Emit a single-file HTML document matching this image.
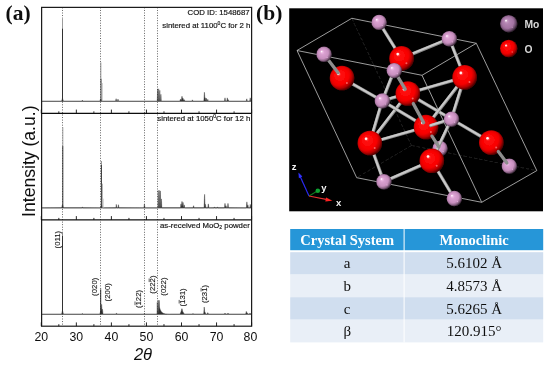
<!DOCTYPE html>
<html lang="en"><head><meta charset="utf-8"><title>XRD of MoO2 and crystal structure</title>
<style>html,body{margin:0;padding:0;background:#fff}svg{display:block}</style></head>
<body>
<svg width="550" height="367" viewBox="0 0 550 367">
<rect width="550" height="367" fill="#fff"/>
<filter id="soft" x="-2%" y="-2%" width="104%" height="104%"><feGaussianBlur stdDeviation="0.32"/></filter>
<g filter="url(#soft)">
<g id="xrd">
<line x1="62.50" y1="7.4" x2="62.50" y2="326.2" stroke="#3c3c3c" stroke-width="0.8" stroke-dasharray="1 1.55"/>
<line x1="100.50" y1="7.4" x2="100.50" y2="326.2" stroke="#3c3c3c" stroke-width="0.8" stroke-dasharray="1 1.55"/>
<line x1="144.50" y1="7.4" x2="144.50" y2="326.2" stroke="#3c3c3c" stroke-width="0.8" stroke-dasharray="1 1.55"/>
<line x1="157.50" y1="7.4" x2="157.50" y2="326.2" stroke="#3c3c3c" stroke-width="0.8" stroke-dasharray="1 1.55"/>
<path d="M41.30 101.35 L61.00 101.32 L61.10 101.30 L61.20 101.27 L61.30 101.23 L61.40 101.15 L61.50 101.04 L61.60 100.89 L61.70 100.68 L61.80 100.41 L61.90 100.08 L62.00 99.72 L62.10 99.33 L62.20 98.96 L62.30 98.64 L62.40 98.43 L62.50 98.35 L62.60 98.43 L62.70 98.64 L62.80 98.96 L62.90 99.33 L63.00 99.72 L63.10 100.08 L63.20 100.41 L63.30 100.68 L63.40 100.89 L63.50 101.04 L63.60 101.15 L63.70 101.23 L63.80 101.27 L63.90 101.30 L64.00 101.32 L81.50 101.34 L81.60 101.32 L81.70 101.27 L81.80 101.18 L81.90 101.01 L82.00 100.77 L82.10 100.49 L82.20 100.25 L82.30 100.15 L82.40 100.25 L82.50 100.49 L82.60 100.77 L82.70 101.01 L82.80 101.18 L82.90 101.27 L83.00 101.32 L83.10 101.34 L99.20 101.32 L99.30 101.31 L99.40 101.28 L99.50 101.24 L99.60 101.19 L99.70 101.10 L99.80 100.99 L99.90 100.84 L100.00 100.64 L100.10 100.41 L100.20 100.14 L100.30 99.85 L100.40 99.56 L100.50 99.29 L100.60 99.06 L100.70 98.90 L100.80 98.85 L100.90 98.90 L101.00 99.06 L101.10 99.29 L101.20 99.56 L101.30 99.85 L101.40 100.14 L101.50 100.41 L101.60 100.64 L101.70 100.84 L101.80 100.99 L101.90 101.10 L102.00 101.19 L102.10 101.24 L102.20 101.28 L102.30 101.31 L102.40 101.32 L115.20 101.34 L115.30 101.32 L115.40 101.28 L115.50 101.18 L115.60 100.97 L115.70 100.61 L115.80 100.09 L115.90 99.49 L116.00 98.96 L116.10 98.75 L116.20 98.96 L116.30 99.49 L116.40 100.09 L116.50 100.61 L116.60 100.97 L116.70 101.18 L116.80 101.27 L116.90 101.31 L117.00 101.33 L117.10 101.33 L117.20 101.32 L117.30 101.28 L117.40 101.20 L117.50 101.03 L117.60 100.73 L117.70 100.29 L117.80 99.77 L117.90 99.33 L118.00 99.15 L118.10 99.33 L118.20 99.77 L118.30 100.29 L118.40 100.73 L118.50 101.03 L118.60 101.20 L118.70 101.29 L118.80 101.32 L157.00 101.32 L157.10 101.29 L157.20 101.13 L157.30 100.23 L157.40 97.26 L157.50 92.04 L157.60 88.84 L157.70 92.04 L157.80 97.25 L157.90 100.22 L158.00 101.11 L158.10 101.27 L158.20 101.27 L158.30 101.11 L158.40 100.22 L158.50 97.25 L158.60 92.03 L158.70 88.84 L158.80 92.03 L158.90 97.25 L159.00 100.22 L159.10 101.11 L159.20 101.27 L159.30 101.27 L159.40 101.14 L159.50 100.35 L159.60 97.74 L159.70 93.15 L159.80 90.34 L159.90 93.15 L160.00 97.74 L160.10 100.35 L160.20 101.13 L160.30 101.26 L160.40 101.20 L160.50 100.87 L160.60 99.90 L160.70 97.96 L160.80 95.56 L160.90 94.35 L161.00 95.57 L161.10 97.97 L161.20 99.91 L161.30 100.89 L161.40 101.22 L161.50 101.31 L161.60 101.33 L179.20 101.33 L179.30 101.32 L179.40 101.30 L179.50 101.26 L179.60 101.20 L179.70 101.11 L179.80 100.98 L179.90 100.80 L180.00 100.56 L180.10 100.28 L180.20 99.97 L180.30 99.67 L180.40 99.40 L180.50 99.21 L180.60 99.13 L180.70 99.20 L180.80 99.38 L180.90 99.62 L181.00 99.89 L181.10 100.11 L181.20 100.23 L181.30 100.20 L181.40 99.95 L181.50 99.47 L181.60 98.78 L181.70 97.96 L181.80 97.15 L181.90 96.53 L182.00 96.28 L182.10 96.47 L182.20 97.01 L182.30 97.69 L182.40 98.31 L182.50 98.72 L182.60 98.87 L182.70 98.77 L182.80 98.53 L182.90 98.30 L183.00 98.22 L183.10 98.38 L183.20 98.74 L183.30 99.19 L183.40 99.62 L183.50 99.96 L183.60 100.15 L183.70 100.21 L183.80 100.15 L183.90 100.02 L184.00 99.88 L184.10 99.77 L184.20 99.73 L184.30 99.78 L184.40 99.92 L184.50 100.12 L184.60 100.35 L184.70 100.57 L184.80 100.77 L184.90 100.95 L185.00 101.08 L185.10 101.17 L185.20 101.24 L185.30 101.28 L185.40 101.31 L185.50 101.33 L191.60 101.33 L191.70 101.31 L191.80 101.25 L191.90 101.13 L192.00 100.93 L192.10 100.63 L192.20 100.28 L192.30 99.97 L192.40 99.85 L192.50 99.97 L192.60 100.28 L192.70 100.63 L192.80 100.93 L192.90 101.13 L193.00 101.25 L193.10 101.31 L193.20 101.33 L203.30 101.33 L203.40 101.32 L203.50 101.30 L203.60 101.24 L203.70 101.10 L203.80 100.75 L203.90 100.04 L204.00 98.80 L204.10 97.00 L204.20 94.90 L204.30 93.07 L204.40 92.31 L204.50 93.00 L204.60 94.68 L204.70 96.50 L204.80 97.81 L204.90 98.36 L205.00 98.25 L205.10 97.89 L205.20 97.74 L205.30 98.08 L205.40 98.80 L205.50 99.60 L205.60 100.26 L205.70 100.62 L205.80 100.65 L205.90 100.34 L206.00 99.76 L206.10 99.03 L206.20 98.40 L206.30 98.14 L206.40 98.40 L206.50 99.05 L206.60 99.80 L206.70 100.44 L206.80 100.88 L206.90 101.12 L207.00 101.24 L207.10 101.25 L207.20 101.20 L207.30 101.05 L207.40 100.78 L207.50 100.38 L207.60 99.91 L207.70 99.51 L207.80 99.35 L207.90 99.51 L208.00 99.92 L208.10 100.38 L208.20 100.78 L208.30 101.06 L208.40 101.22 L208.50 101.29 L208.60 101.33 L224.10 101.33 L224.20 101.31 L224.30 101.25 L224.40 101.12 L224.50 100.84 L224.60 100.36 L224.70 99.66 L224.80 98.84 L224.90 98.14 L225.00 97.85 L225.10 98.14 L225.20 98.84 L225.30 99.66 L225.40 100.36 L225.50 100.84 L225.60 101.12 L225.70 101.25 L225.80 101.31 L225.90 101.33 L226.40 101.33 L226.50 101.31 L226.60 101.25 L226.70 101.12 L226.80 100.84 L226.90 100.36 L227.00 99.66 L227.10 98.84 L227.20 98.13 L227.30 97.84 L227.40 98.12 L227.50 98.80 L227.60 99.56 L227.70 100.13 L227.80 100.39 L227.90 100.35 L228.00 100.11 L228.10 99.84 L228.20 99.73 L228.30 99.87 L228.40 100.20 L228.50 100.57 L228.60 100.89 L228.70 101.11 L228.80 101.24 L228.90 101.30 L229.00 101.33 L246.00 101.32 L246.10 101.28 L246.20 101.19 L246.30 100.99 L246.40 100.64 L246.50 100.14 L246.60 99.56 L246.70 99.06 L246.80 98.85 L246.90 99.06 L247.00 99.56 L247.10 100.14 L247.20 100.64 L247.30 100.99 L247.40 101.19 L247.50 101.28 L247.60 101.32 L249.30 101.33 L249.40 101.31 L249.50 101.25 L249.60 101.12 L249.70 100.84 L249.80 100.36 L249.90 99.66 L250.00 98.84 L250.10 98.14 L250.20 97.85 L250.30 98.14 L250.40 98.84 L250.50 99.66 L250.60 100.36 L250.70 100.84 L250.80 101.12 L250.90 101.25 L251.00 101.31 L251.10 101.33 L251.60 101.35" fill="#303030" stroke="#303030" stroke-width="0.4" stroke-linejoin="round"/>
<line x1="41.3" y1="101.3" x2="251.6" y2="101.3" stroke="#4a4a4a" stroke-width="0.85"/>
<path d="M41.30 207.90 L61.00 207.87 L61.10 207.85 L61.20 207.82 L61.30 207.78 L61.40 207.70 L61.50 207.59 L61.60 207.44 L61.70 207.23 L61.80 206.96 L61.90 206.63 L62.00 206.27 L62.10 205.88 L62.20 205.51 L62.30 205.19 L62.40 204.98 L62.50 204.90 L62.60 204.98 L62.70 205.19 L62.80 205.51 L62.90 205.88 L63.00 206.27 L63.10 206.63 L63.20 206.96 L63.30 207.23 L63.40 207.44 L63.50 207.59 L63.60 207.70 L63.70 207.78 L63.80 207.82 L63.90 207.85 L64.00 207.87 L81.60 207.87 L81.70 207.83 L81.80 207.76 L81.90 207.62 L82.00 207.42 L82.10 207.18 L82.20 206.98 L82.30 206.90 L82.40 206.98 L82.50 207.18 L82.60 207.42 L82.70 207.62 L82.80 207.76 L82.90 207.83 L83.00 207.87 L99.80 207.88 L99.90 207.87 L100.00 207.85 L100.10 207.82 L100.20 207.77 L100.30 207.70 L100.40 207.60 L100.50 207.47 L100.60 207.28 L100.70 207.05 L100.80 206.77 L100.90 206.45 L101.00 206.11 L101.10 205.75 L101.20 205.42 L101.30 205.15 L101.40 204.96 L101.50 204.90 L101.60 204.96 L101.70 205.15 L101.80 205.42 L101.90 205.75 L102.00 206.11 L102.10 206.45 L102.20 206.77 L102.30 207.05 L102.40 207.28 L102.50 207.47 L102.60 207.60 L102.70 207.70 L102.80 207.77 L102.90 207.82 L103.00 207.85 L103.10 207.87 L103.20 207.88 L115.60 207.87 L115.70 207.82 L115.80 207.67 L115.90 207.31 L116.00 206.65 L116.10 205.72 L116.20 204.81 L116.30 204.40 L116.40 204.81 L116.50 205.72 L116.60 206.65 L116.70 207.31 L116.80 207.67 L116.90 207.82 L117.00 207.87 L117.10 207.88 L117.70 207.87 L117.80 207.82 L117.90 207.69 L118.00 207.36 L118.10 206.76 L118.20 205.91 L118.30 205.07 L118.40 204.70 L118.50 205.07 L118.60 205.91 L118.70 206.76 L118.80 207.36 L118.90 207.69 L119.00 207.83 L119.10 207.87 L143.50 207.88 L143.60 207.86 L143.70 207.80 L143.80 207.65 L143.90 207.35 L144.00 206.83 L144.10 206.07 L144.20 205.18 L144.30 204.41 L144.40 204.10 L144.50 204.41 L144.60 205.18 L144.70 206.07 L144.80 206.83 L144.90 207.35 L145.00 207.65 L145.10 207.80 L145.20 207.86 L145.30 207.88 L157.40 207.88 L157.50 207.87 L157.60 207.85 L157.70 207.79 L157.80 207.44 L157.90 205.87 L158.00 201.42 L158.10 194.43 L158.20 190.39 L158.30 194.43 L158.40 201.41 L158.50 205.85 L158.60 207.41 L158.70 207.74 L158.80 207.74 L158.90 207.41 L159.00 205.85 L159.10 201.41 L159.20 194.42 L159.30 190.38 L159.40 194.42 L159.50 201.41 L159.60 205.85 L159.70 207.41 L159.80 207.74 L159.90 207.74 L160.00 207.42 L160.10 205.90 L160.20 201.59 L160.30 194.81 L160.40 190.88 L160.50 194.81 L160.60 201.59 L160.70 205.90 L160.80 207.40 L160.90 207.63 L161.00 207.26 L161.10 206.02 L161.20 203.54 L161.30 200.45 L161.40 198.89 L161.50 200.46 L161.60 203.55 L161.70 206.05 L161.80 207.30 L161.90 207.74 L162.00 207.85 L162.10 207.87 L180.10 207.87 L180.20 207.85 L180.30 207.78 L180.40 207.63 L180.50 207.31 L180.60 206.76 L180.70 205.96 L180.80 205.02 L180.90 204.21 L181.00 203.88 L181.10 204.19 L181.20 204.96 L181.30 205.79 L181.40 206.34 L181.50 206.38 L181.60 205.79 L181.70 204.65 L181.80 203.19 L181.90 201.90 L182.00 201.37 L182.10 201.90 L182.20 203.18 L182.30 204.61 L182.40 205.70 L182.50 206.16 L182.60 205.91 L182.70 205.06 L182.80 203.88 L182.90 202.81 L183.00 202.37 L183.10 202.83 L183.20 203.94 L183.30 205.22 L183.40 206.30 L183.50 207.01 L183.60 207.34 L183.70 207.31 L183.80 206.98 L183.90 206.42 L184.00 205.73 L184.10 205.13 L184.20 204.89 L184.30 205.14 L184.40 205.74 L184.50 206.45 L184.60 207.05 L184.70 207.46 L184.80 207.70 L184.90 207.81 L185.00 207.86 L185.10 207.88 L192.80 207.87 L192.90 207.84 L193.00 207.76 L193.10 207.58 L193.20 207.28 L193.30 206.84 L193.40 206.33 L193.50 205.88 L193.60 205.70 L193.70 205.88 L193.80 206.33 L193.90 206.84 L194.00 207.28 L194.10 207.58 L194.20 207.76 L194.30 207.84 L194.40 207.87 L203.50 207.87 L203.60 207.86 L203.70 207.85 L203.80 207.80 L203.90 207.66 L204.00 207.28 L204.10 206.40 L204.20 204.70 L204.30 202.02 L204.40 198.67 L204.50 195.65 L204.60 194.36 L204.70 195.58 L204.80 198.46 L204.90 201.52 L205.00 203.72 L205.10 204.72 L205.20 204.78 L205.30 204.45 L205.40 204.30 L205.50 204.64 L205.60 205.36 L205.70 206.19 L205.80 206.89 L205.90 207.38 L206.00 207.66 L206.10 207.79 L206.20 207.85 L206.30 207.87 L207.40 207.87 L207.50 207.85 L207.60 207.79 L207.70 207.63 L207.80 207.32 L207.90 206.77 L208.00 205.97 L208.10 205.04 L208.20 204.23 L208.30 203.90 L208.40 204.23 L208.50 205.04 L208.60 205.97 L208.70 206.77 L208.80 207.32 L208.90 207.64 L209.00 207.79 L209.10 207.85 L209.20 207.88 L213.80 207.87 L213.90 207.83 L214.00 207.76 L214.10 207.62 L214.20 207.42 L214.30 207.18 L214.40 206.98 L214.50 206.90 L214.60 206.98 L214.70 207.18 L214.80 207.42 L214.90 207.62 L215.00 207.76 L215.10 207.83 L215.20 207.87 L216.80 207.87 L216.90 207.83 L217.00 207.76 L217.10 207.62 L217.20 207.42 L217.30 207.18 L217.40 206.98 L217.50 206.90 L217.60 206.98 L217.70 207.18 L217.80 207.42 L217.90 207.62 L218.00 207.76 L218.10 207.83 L218.20 207.87 L224.10 207.87 L224.20 207.85 L224.30 207.77 L224.40 207.60 L224.50 207.25 L224.60 206.63 L224.70 205.73 L224.80 204.67 L224.90 203.77 L225.00 203.39 L225.10 203.76 L225.20 204.65 L225.30 205.67 L225.40 206.48 L225.50 206.93 L225.60 206.98 L225.70 206.71 L225.80 206.27 L225.90 205.86 L226.00 205.68 L226.10 205.87 L226.20 206.32 L226.30 206.83 L226.40 207.27 L226.50 207.57 L226.60 207.75 L226.70 207.83 L226.80 207.86 L226.90 207.88 L227.00 207.88 L227.10 207.87 L227.20 207.84 L227.30 207.77 L227.40 207.60 L227.50 207.25 L227.60 206.63 L227.70 205.73 L227.80 204.68 L227.90 203.77 L228.00 203.40 L228.10 203.77 L228.20 204.68 L228.30 205.73 L228.40 206.63 L228.50 207.25 L228.60 207.60 L228.70 207.78 L228.80 207.85 L228.90 207.87 L245.90 207.88 L246.00 207.87 L246.10 207.83 L246.20 207.73 L246.30 207.50 L246.40 207.03 L246.50 206.20 L246.60 205.00 L246.70 203.60 L246.80 202.39 L246.90 201.89 L247.00 202.38 L247.10 203.57 L247.20 204.92 L247.30 206.01 L247.40 206.60 L247.50 206.66 L247.60 206.29 L247.70 205.68 L247.80 205.11 L247.90 204.88 L248.00 205.13 L248.10 205.74 L248.20 206.44 L248.30 207.04 L248.40 207.46 L248.50 207.70 L248.60 207.81 L248.70 207.86 L248.80 207.88 L249.40 207.88 L249.50 207.86 L249.60 207.80 L249.70 207.67 L249.80 207.39 L249.90 206.91 L250.00 206.21 L250.10 205.39 L250.20 204.69 L250.30 204.40 L250.40 204.69 L250.50 205.39 L250.60 206.21 L250.70 206.91 L250.80 207.39 L250.90 207.67 L251.00 207.80 L251.10 207.86 L251.20 207.88 L251.60 207.89" fill="#303030" stroke="#303030" stroke-width="0.4" stroke-linejoin="round"/>
<line x1="41.3" y1="207.9" x2="251.6" y2="207.9" stroke="#4a4a4a" stroke-width="0.85"/>
<path d="M41.30 314.30 L60.90 314.28 L61.00 314.27 L61.10 314.24 L61.20 314.21 L61.30 314.16 L61.40 314.07 L61.50 313.94 L61.60 313.76 L61.70 313.51 L61.80 313.20 L61.90 312.82 L62.00 312.39 L62.10 311.94 L62.20 311.51 L62.30 311.14 L62.40 310.89 L62.50 310.80 L62.60 310.89 L62.70 311.14 L62.80 311.51 L62.90 311.94 L63.00 312.39 L63.10 312.82 L63.20 313.20 L63.30 313.51 L63.40 313.76 L63.50 313.94 L63.60 314.07 L63.70 314.16 L63.80 314.21 L63.90 314.24 L64.00 314.27 L64.10 314.28 L81.40 314.27 L81.50 314.25 L81.60 314.20 L81.70 314.14 L81.80 314.04 L81.90 313.91 L82.00 313.77 L82.10 313.64 L82.20 313.54 L82.30 313.50 L82.40 313.54 L82.50 313.64 L82.60 313.77 L82.70 313.91 L82.80 314.04 L82.90 314.14 L83.00 314.20 L83.10 314.25 L83.20 314.27 L99.10 314.27 L99.20 314.26 L99.30 314.24 L99.40 314.21 L99.50 314.17 L99.60 314.10 L99.70 314.00 L99.80 313.86 L99.90 313.68 L100.00 313.44 L100.10 313.16 L100.20 312.84 L100.30 312.49 L100.40 312.13 L100.50 311.80 L100.60 311.51 L100.70 311.31 L100.80 311.19 L100.90 311.11 L101.00 310.95 L101.10 310.51 L101.20 309.59 L101.30 308.14 L101.40 306.37 L101.50 304.84 L101.60 304.30 L101.70 305.10 L101.80 306.77 L101.90 308.48 L102.00 309.61 L102.10 309.96 L102.20 309.72 L102.30 309.31 L102.40 309.16 L102.50 309.54 L102.60 310.35 L102.70 311.36 L102.80 312.32 L102.90 313.10 L103.00 313.63 L103.10 313.96 L103.20 314.13 L103.30 314.22 L103.40 314.25 L103.50 314.27 L115.10 314.28 L115.20 314.26 L115.30 314.24 L115.40 314.21 L115.50 314.17 L115.60 314.12 L115.70 314.05 L115.80 313.96 L115.90 313.87 L116.00 313.76 L116.10 313.66 L116.20 313.56 L116.30 313.47 L116.40 313.42 L116.50 313.40 L116.60 313.42 L116.70 313.47 L116.80 313.56 L116.90 313.66 L117.00 313.76 L117.10 313.87 L117.20 313.96 L117.30 314.05 L117.40 314.12 L117.50 314.17 L117.60 314.21 L117.70 314.24 L117.80 314.26 L117.90 314.28 L143.40 314.28 L143.50 314.27 L143.60 314.23 L143.70 314.18 L143.80 314.09 L143.90 313.97 L144.00 313.82 L144.10 313.64 L144.20 313.47 L144.30 313.35 L144.40 313.30 L144.50 313.35 L144.60 313.47 L144.70 313.64 L144.80 313.82 L144.90 313.97 L145.00 314.09 L145.10 314.18 L145.20 314.23 L145.30 314.27 L145.40 314.28 L156.60 314.27 L156.70 314.25 L156.80 314.19 L156.90 313.85 L157.00 312.55 L157.10 309.37 L157.20 304.79 L157.30 302.28 L157.40 304.78 L157.50 309.34 L157.60 312.50 L157.70 313.72 L157.80 313.66 L157.90 312.21 L158.00 308.51 L158.10 303.17 L158.20 300.22 L158.30 303.11 L158.40 308.38 L158.50 311.95 L158.60 313.16 L158.70 312.76 L158.80 310.91 L158.90 307.34 L159.00 302.88 L159.10 300.15 L159.20 301.16 L159.30 304.04 L159.40 306.29 L159.50 307.27 L159.60 307.60 L159.70 308.05 L159.80 308.39 L159.90 308.68 L160.00 308.96 L160.10 309.23 L160.20 309.48 L160.30 309.71 L160.40 309.94 L160.50 310.15 L160.60 310.35 L160.70 310.55 L160.80 310.73 L160.90 310.90 L161.00 311.07 L161.10 311.23 L161.20 311.38 L161.30 311.52 L161.40 311.66 L161.50 311.79 L161.60 311.91 L161.70 312.02 L161.80 312.14 L161.90 312.24 L162.00 312.34 L162.10 312.44 L162.20 312.53 L162.30 312.61 L162.40 312.70 L162.50 312.77 L162.60 312.85 L162.70 312.92 L162.80 312.99 L162.90 313.05 L163.00 313.11 L163.10 313.17 L163.20 313.23 L163.30 313.28 L163.40 313.33 L163.50 313.37 L163.60 313.42 L163.70 313.46 L163.80 313.50 L163.90 313.54 L164.00 313.58 L164.10 313.61 L164.20 313.65 L164.30 313.68 L164.40 313.71 L164.50 313.74 L164.60 313.77 L164.70 313.79 L164.80 313.82 L164.90 313.84 L165.00 313.86 L165.10 313.88 L165.20 313.90 L165.30 313.92 L165.40 313.94 L165.50 313.96 L165.60 313.98 L165.70 313.99 L165.80 314.01 L165.90 314.02 L166.00 314.03 L166.10 314.05 L166.20 314.06 L166.30 314.07 L166.40 314.08 L166.50 314.09 L166.60 314.10 L166.70 314.11 L166.80 314.12 L166.90 314.13 L167.00 314.14 L167.10 314.15 L167.20 314.15 L167.30 314.16 L167.40 314.17 L167.50 314.17 L167.60 314.18 L167.70 314.19 L167.80 314.19 L167.90 314.20 L168.00 314.20 L168.10 314.21 L168.20 314.21 L168.30 314.22 L168.40 314.22 L168.50 314.22 L168.60 314.23 L168.70 314.23 L168.80 314.23 L168.90 314.24 L169.00 314.24 L169.10 314.24 L169.20 314.25 L169.30 314.25 L169.40 314.25 L169.50 314.25 L169.60 314.26 L169.70 314.26 L169.80 314.26 L169.90 314.26 L170.00 314.26 L170.10 314.27 L170.20 314.27 L170.30 314.27 L170.40 314.27 L179.20 314.28 L179.30 314.27 L179.40 314.26 L179.50 314.24 L179.60 314.21 L179.70 314.18 L179.80 314.13 L179.90 314.06 L180.00 313.96 L180.10 313.84 L180.20 313.69 L180.30 313.51 L180.40 313.30 L180.50 313.06 L180.60 312.80 L180.70 312.52 L180.80 312.24 L180.90 311.95 L181.00 311.66 L181.10 311.36 L181.20 311.06 L181.30 310.75 L181.40 310.40 L181.50 310.02 L181.60 309.62 L181.70 309.23 L181.80 308.90 L181.90 308.69 L182.00 308.67 L182.10 308.85 L182.20 309.21 L182.30 309.67 L182.40 310.17 L182.50 310.65 L182.60 311.06 L182.70 311.39 L182.80 311.65 L182.90 311.84 L183.00 312.00 L183.10 312.14 L183.20 312.28 L183.30 312.44 L183.40 312.60 L183.50 312.78 L183.60 312.96 L183.70 313.14 L183.80 313.32 L183.90 313.48 L184.00 313.63 L184.10 313.77 L184.20 313.88 L184.30 313.98 L184.40 314.05 L184.50 314.11 L184.60 314.16 L184.70 314.20 L184.80 314.23 L184.90 314.25 L185.00 314.26 L185.10 314.27 L192.10 314.28 L192.20 314.25 L192.30 314.22 L192.40 314.16 L192.50 314.07 L192.60 313.96 L192.70 313.84 L192.80 313.72 L192.90 313.63 L193.00 313.60 L193.10 313.63 L193.20 313.72 L193.30 313.84 L193.40 313.96 L193.50 314.07 L193.60 314.16 L193.70 314.22 L193.80 314.25 L193.90 314.28 L203.20 314.27 L203.30 314.26 L203.40 314.21 L203.50 314.10 L203.60 313.82 L203.70 313.26 L203.80 312.28 L203.90 310.84 L204.00 309.16 L204.10 307.67 L204.20 306.97 L204.30 307.38 L204.40 308.58 L204.50 309.96 L204.60 311.08 L204.70 311.76 L204.80 312.07 L204.90 312.17 L205.00 312.22 L205.10 312.32 L205.20 312.51 L205.30 312.76 L205.40 313.04 L205.50 313.32 L205.60 313.58 L205.70 313.79 L205.80 313.96 L205.90 314.08 L206.00 314.16 L206.10 314.22 L206.20 314.25 L206.30 314.27 L206.40 314.28 L206.70 314.28 L206.80 314.27 L206.90 314.24 L207.00 314.19 L207.10 314.10 L207.20 313.97 L207.30 313.77 L207.40 313.53 L207.50 313.25 L207.60 312.98 L207.70 312.77 L207.80 312.70 L207.90 312.77 L208.00 312.98 L208.10 313.25 L208.20 313.53 L208.30 313.78 L208.40 313.97 L208.50 314.11 L208.60 314.19 L208.70 314.24 L208.80 314.27 L224.00 314.28 L224.10 314.26 L224.20 314.22 L224.30 314.16 L224.40 314.05 L224.50 313.91 L224.60 313.72 L224.70 313.51 L224.80 313.31 L224.90 313.16 L225.00 313.10 L225.10 313.16 L225.20 313.31 L225.30 313.51 L225.40 313.72 L225.50 313.91 L225.60 314.05 L225.70 314.16 L225.80 314.22 L225.90 314.26 L226.00 314.28 L227.00 314.28 L227.10 314.26 L227.20 314.22 L227.30 314.16 L227.40 314.05 L227.50 313.91 L227.60 313.72 L227.70 313.51 L227.80 313.31 L227.90 313.16 L228.00 313.10 L228.10 313.16 L228.20 313.31 L228.30 313.51 L228.40 313.72 L228.50 313.91 L228.60 314.05 L228.70 314.16 L228.80 314.22 L228.90 314.26 L229.00 314.28 L245.20 314.27 L245.30 314.25 L245.40 314.20 L245.50 314.11 L245.60 313.96 L245.70 313.72 L245.80 313.38 L245.90 312.95 L246.00 312.45 L246.10 311.98 L246.20 311.62 L246.30 311.48 L246.40 311.59 L246.50 311.90 L246.60 312.30 L246.70 312.68 L246.80 312.96 L246.90 313.10 L247.00 313.11 L247.10 313.04 L247.20 312.97 L247.30 312.95 L247.40 313.04 L247.50 313.21 L247.60 313.43 L247.70 313.66 L247.80 313.87 L247.90 314.03 L248.00 314.14 L248.10 314.21 L248.20 314.25 L248.30 314.27 L249.00 314.28 L249.10 314.26 L249.20 314.22 L249.30 314.15 L249.40 314.05 L249.50 313.91 L249.60 313.72 L249.70 313.51 L249.80 313.31 L249.90 313.16 L250.00 313.10 L250.10 313.16 L250.20 313.31 L250.30 313.51 L250.40 313.72 L250.50 313.91 L250.60 314.05 L250.70 314.16 L250.80 314.22 L250.90 314.26 L251.00 314.28 L251.60 314.30" fill="#303030" stroke="#303030" stroke-width="0.4" stroke-linejoin="round"/>
<line x1="41.3" y1="314.3" x2="251.6" y2="314.3" stroke="#4a4a4a" stroke-width="0.85"/>
<line x1="62.5" y1="28.5" x2="62.5" y2="101.3" stroke="#303030" stroke-width="1.0"/>
<line x1="62.5" y1="18.9" x2="62.5" y2="28.5" stroke="#9c9c9c" stroke-width="1.0"/>
<line x1="101.0" y1="78.7" x2="101.0" y2="101.3" stroke="#303030" stroke-width="1.0"/>
<line x1="100.8" y1="62.4" x2="100.8" y2="78.7" stroke="#8c8c8c" stroke-width="1.0"/>
<line x1="102.1" y1="83.0" x2="102.1" y2="101.3" stroke="#9a9a9a" stroke-width="0.7"/>
<line x1="62.8" y1="146.0" x2="62.8" y2="207.9" stroke="#303030" stroke-width="1.0"/>
<line x1="62.8" y1="127.2" x2="62.8" y2="146.0" stroke="#9c9c9c" stroke-width="1.0"/>
<line x1="101.4" y1="165.0" x2="101.4" y2="207.9" stroke="#303030" stroke-width="1.0"/>
<line x1="101.4" y1="161.0" x2="101.4" y2="165.0" stroke="#8c8c8c" stroke-width="1.0"/>
<line x1="102.4" y1="183.7" x2="102.4" y2="207.9" stroke="#8e8e8e" stroke-width="0.7"/>
<line x1="103.3" y1="198.7" x2="103.3" y2="207.9" stroke="#b0b0b0" stroke-width="0.6"/>
<line x1="62.5" y1="236.0" x2="62.5" y2="314.3" stroke="#303030" stroke-width="1.0"/>
<line x1="62.5" y1="232.2" x2="62.5" y2="236.0" stroke="#8c8c8c" stroke-width="1.0"/>
<line x1="100.7" y1="290.0" x2="100.7" y2="314.3" stroke="#2a2a2a" stroke-width="1.0"/>
<line x1="100.7" y1="288.2" x2="100.7" y2="290.0" stroke="#777" stroke-width="1.0"/>
<rect x="41.6" y="7.4" width="210.0" height="318.8" fill="none" stroke="#1c1c1c" stroke-width="1.2"/>
<line x1="41.3" y1="113.4" x2="251.6" y2="113.4" stroke="#111" stroke-width="1.1"/>
<line x1="41.3" y1="219.9" x2="251.6" y2="219.9" stroke="#111" stroke-width="1.1"/>
<path d="M41.30 113.40 V109.60 M58.82 113.40 V111.40 M76.35 113.40 V109.60 M93.88 113.40 V111.40 M111.40 113.40 V109.60 M128.93 113.40 V111.40 M146.45 113.40 V109.60 M163.97 113.40 V111.40 M181.50 113.40 V109.60 M199.02 113.40 V111.40 M216.55 113.40 V109.60 M234.07 113.40 V111.40 M251.60 113.40 V109.60 M41.30 219.90 V216.10 M58.82 219.90 V217.90 M76.35 219.90 V216.10 M93.88 219.90 V217.90 M111.40 219.90 V216.10 M128.93 219.90 V217.90 M146.45 219.90 V216.10 M163.97 219.90 V217.90 M181.50 219.90 V216.10 M199.02 219.90 V217.90 M216.55 219.90 V216.10 M234.07 219.90 V217.90 M251.60 219.90 V216.10 M41.30 326.20 V322.40 M58.82 326.20 V324.20 M76.35 326.20 V322.40 M93.88 326.20 V324.20 M111.40 326.20 V322.40 M128.93 326.20 V324.20 M146.45 326.20 V322.40 M163.97 326.20 V324.20 M181.50 326.20 V322.40 M199.02 326.20 V324.20 M216.55 326.20 V322.40 M234.07 326.20 V324.20 M251.60 326.20 V322.40" stroke="#111" stroke-width="0.9" fill="none"/>
<text x="41.3" y="340.6" font-family='"Liberation Sans", Arial, sans-serif' font-size="12.3" text-anchor="middle" fill="#111">20</text>
<text x="76.3" y="340.6" font-family='"Liberation Sans", Arial, sans-serif' font-size="12.3" text-anchor="middle" fill="#111">30</text>
<text x="111.4" y="340.6" font-family='"Liberation Sans", Arial, sans-serif' font-size="12.3" text-anchor="middle" fill="#111">40</text>
<text x="146.4" y="340.6" font-family='"Liberation Sans", Arial, sans-serif' font-size="12.3" text-anchor="middle" fill="#111">50</text>
<text x="181.5" y="340.6" font-family='"Liberation Sans", Arial, sans-serif' font-size="12.3" text-anchor="middle" fill="#111">60</text>
<text x="216.6" y="340.6" font-family='"Liberation Sans", Arial, sans-serif' font-size="12.3" text-anchor="middle" fill="#111">70</text>
<text x="250.4" y="340.6" font-family='"Liberation Sans", Arial, sans-serif' font-size="12.3" text-anchor="middle" fill="#111">80</text>
<text x="143" y="359.6" font-family='"Liberation Sans", Arial, sans-serif' font-size="16.5" font-style="italic" text-anchor="middle" fill="#111">2&#952;</text>
<text transform="translate(35.2 161.2) rotate(-90)" font-family='"Liberation Sans", Arial, sans-serif' font-size="17.6" text-anchor="middle" fill="#111">Intensity (a.u.)</text>
<text x="249.6" y="15.2" font-family='"Liberation Sans", Arial, sans-serif' font-size="7.8" text-anchor="end" fill="#151515" stroke="#151515" stroke-width="0.18">COD ID: 1548687</text>
<text x="250.3" y="27.8" font-family='"Liberation Sans", Arial, sans-serif' font-size="7.8" text-anchor="end" fill="#151515" stroke="#151515" stroke-width="0.18">sintered at 1100<tspan dy="-2.6" font-size="5">0</tspan><tspan dy="2.6">C for 2 h</tspan></text>
<text x="250.3" y="120.8" font-family='"Liberation Sans", Arial, sans-serif' font-size="7.8" text-anchor="end" fill="#151515" stroke="#151515" stroke-width="0.18">sintered at 1050<tspan dy="-2.6" font-size="5">0</tspan><tspan dy="2.6">C for 12 h</tspan></text>
<text x="249.9" y="227.5" font-family='"Liberation Sans", Arial, sans-serif' font-size="7.8" text-anchor="end" fill="#151515" stroke="#151515" stroke-width="0.18">as-received MoO<tspan dy="1.6" font-size="5">2</tspan><tspan dy="-1.6"> powder</tspan></text>
<g transform="translate(60.3 239.6) rotate(-90)">
<text font-family='"Liberation Sans", Arial, sans-serif' font-size="7.8" text-anchor="middle" fill="#1a1a1a" stroke="#1a1a1a" stroke-width="0.12">(011)</text>
</g>
<g transform="translate(97.0 286.8) rotate(-90)">
<text font-family='"Liberation Sans", Arial, sans-serif' font-size="7.8" text-anchor="middle" fill="#1a1a1a" stroke="#1a1a1a" stroke-width="0.12">(020)</text>
</g>
<g transform="translate(110.2 292.3) rotate(-90)">
<text font-family='"Liberation Sans", Arial, sans-serif' font-size="7.8" text-anchor="middle" fill="#1a1a1a" stroke="#1a1a1a" stroke-width="0.12">(200)</text>
</g>
<g transform="translate(141.2 299.0) rotate(-90)">
<text font-family='"Liberation Sans", Arial, sans-serif' font-size="7.8" text-anchor="middle" fill="#1a1a1a" stroke="#1a1a1a" stroke-width="0.12">(122)</text>
<line x1="-6.16" y1="-6.2" x2="-2.52" y2="-6.2" stroke="#1a1a1a" stroke-width="0.7"/>
</g>
<g transform="translate(155.4 284.6) rotate(-90)">
<text font-family='"Liberation Sans", Arial, sans-serif' font-size="7.8" text-anchor="middle" fill="#1a1a1a" stroke="#1a1a1a" stroke-width="0.12">(222)</text>
<line x1="2.52" y1="-6.2" x2="6.16" y2="-6.2" stroke="#1a1a1a" stroke-width="0.7"/>
</g>
<g transform="translate(166.0 286.6) rotate(-90)">
<text font-family='"Liberation Sans", Arial, sans-serif' font-size="7.8" text-anchor="middle" fill="#1a1a1a" stroke="#1a1a1a" stroke-width="0.12">(022)</text>
</g>
<g transform="translate(185.4 297.4) rotate(-90)">
<text font-family='"Liberation Sans", Arial, sans-serif' font-size="7.8" text-anchor="middle" fill="#1a1a1a" stroke="#1a1a1a" stroke-width="0.12">(131)</text>
<line x1="-6.16" y1="-6.2" x2="-2.52" y2="-6.2" stroke="#1a1a1a" stroke-width="0.7"/>
</g>
<g transform="translate(207.3 294.0) rotate(-90)">
<text font-family='"Liberation Sans", Arial, sans-serif' font-size="7.8" text-anchor="middle" fill="#1a1a1a" stroke="#1a1a1a" stroke-width="0.12">(231)</text>
<line x1="2.52" y1="-6.2" x2="6.16" y2="-6.2" stroke="#1a1a1a" stroke-width="0.7"/>
</g>
</g>
<text x="18.1" y="20.4" text-anchor="middle" font-family='"Liberation Serif", "Times New Roman", serif' font-size="21.5" font-weight="bold" fill="#111">(a)</text>
<text x="269.2" y="20.4" text-anchor="middle" font-family='"Liberation Serif", "Times New Roman", serif' font-size="21.5" font-weight="bold" fill="#111">(b)</text>
<defs>
<radialGradient id="gO" cx="0.5" cy="0.5" r="0.5" fx="0.34" fy="0.31"><stop offset="0" stop-color="#ffe6e6"/><stop offset="0.06" stop-color="#ff6a6a"/><stop offset="0.18" stop-color="#ff1212"/><stop offset="0.6" stop-color="#fa0000"/><stop offset="0.85" stop-color="#e60000"/><stop offset="1" stop-color="#b00000"/></radialGradient>
<radialGradient id="gM" cx="0.5" cy="0.5" r="0.5" fx="0.34" fy="0.31"><stop offset="0" stop-color="#fff4fc"/><stop offset="0.1" stop-color="#efbde6"/><stop offset="0.3" stop-color="#d9a0d0"/><stop offset="0.65" stop-color="#cb92c2"/><stop offset="0.88" stop-color="#b07ea9"/><stop offset="1" stop-color="#80577b"/></radialGradient>
<radialGradient id="gML" cx="0.5" cy="0.5" r="0.5" fx="0.34" fy="0.31"><stop offset="0" stop-color="#f6e8f4"/><stop offset="0.1" stop-color="#c9a0c6"/><stop offset="0.3" stop-color="#b283b1"/><stop offset="0.65" stop-color="#a474a3"/><stop offset="0.88" stop-color="#835c82"/><stop offset="1" stop-color="#583a57"/></radialGradient>
<radialGradient id="gS" cx="0.34" cy="0.34" r="0.74"><stop offset="0" stop-color="#000" stop-opacity="0"/><stop offset="0.62" stop-color="#000" stop-opacity="0"/><stop offset="0.8" stop-color="#000" stop-opacity="0.22"/><stop offset="0.92" stop-color="#000" stop-opacity="0.5"/><stop offset="1" stop-color="#000" stop-opacity="0.72"/></radialGradient>
<clipPath id="cb"><rect x="289.2" y="8.3" width="253.8" height="203"/></clipPath>
</defs>
<rect x="289.2" y="8.3" width="253.8" height="203" fill="#000"/>
<g clip-path="url(#cb)">
<line x1="351.8" y1="18.3" x2="411.5" y2="145.5" stroke="#2e2e2e" stroke-width="0.7" stroke-dasharray="3.5 1.8"/>
<line x1="411.5" y1="145.5" x2="356.7" y2="177.7" stroke="#2e2e2e" stroke-width="0.7" stroke-dasharray="3.5 1.8"/>
<line x1="411.5" y1="145.5" x2="536.8" y2="170.6" stroke="#2e2e2e" stroke-width="0.7" stroke-dasharray="3.5 1.8"/>
<line x1="297.0" y1="50.5" x2="351.8" y2="18.3" stroke="#c4c4c4" stroke-width="0.8"/>
<line x1="351.8" y1="18.3" x2="476.3" y2="43.3" stroke="#c4c4c4" stroke-width="0.8"/>
<line x1="476.3" y1="43.3" x2="422.0" y2="75.3" stroke="#c4c4c4" stroke-width="0.8"/>
<line x1="422.0" y1="75.3" x2="297.0" y2="50.5" stroke="#c4c4c4" stroke-width="0.8"/>
<line x1="297.0" y1="50.5" x2="356.7" y2="177.7" stroke="#c4c4c4" stroke-width="0.8"/>
<line x1="422.0" y1="75.3" x2="481.7" y2="202.3" stroke="#c4c4c4" stroke-width="0.8"/>
<line x1="476.3" y1="43.3" x2="536.8" y2="170.6" stroke="#c4c4c4" stroke-width="0.8"/>
<line x1="356.7" y1="177.7" x2="481.7" y2="202.3" stroke="#c4c4c4" stroke-width="0.8"/>
<line x1="481.7" y1="202.3" x2="536.8" y2="170.6" stroke="#c4c4c4" stroke-width="0.8"/>
<line x1="342.0" y1="78.0" x2="382.3" y2="100.9" stroke="#8a8a8a" stroke-width="3.3" stroke-linecap="round"/>
<line x1="341.7" y1="77.7" x2="382.0" y2="100.6" stroke="#c9c9c9" stroke-width="2.1" stroke-linecap="round"/>
<line x1="379.1" y1="22.4" x2="401.5" y2="58.4" stroke="#8a8a8a" stroke-width="3.3" stroke-linecap="round"/>
<line x1="378.8" y1="22.1" x2="401.2" y2="58.1" stroke="#c9c9c9" stroke-width="2.1" stroke-linecap="round"/>
<line x1="401.5" y1="58.4" x2="449.3" y2="38.7" stroke="#8a8a8a" stroke-width="3.3" stroke-linecap="round"/>
<line x1="401.2" y1="58.1" x2="449.0" y2="38.4" stroke="#c9c9c9" stroke-width="2.1" stroke-linecap="round"/>
<line x1="382.3" y1="100.9" x2="394.2" y2="70.6" stroke="#8a8a8a" stroke-width="3.3" stroke-linecap="round"/>
<line x1="382.0" y1="100.6" x2="393.9" y2="70.3" stroke="#c9c9c9" stroke-width="2.1" stroke-linecap="round"/>
<line x1="382.3" y1="100.9" x2="407.8" y2="93.5" stroke="#8a8a8a" stroke-width="3.3" stroke-linecap="round"/>
<line x1="382.0" y1="100.6" x2="407.5" y2="93.2" stroke="#c9c9c9" stroke-width="2.1" stroke-linecap="round"/>
<line x1="382.3" y1="100.9" x2="369.8" y2="143.0" stroke="#8a8a8a" stroke-width="3.3" stroke-linecap="round"/>
<line x1="382.0" y1="100.6" x2="369.5" y2="142.7" stroke="#c9c9c9" stroke-width="2.1" stroke-linecap="round"/>
<line x1="369.8" y1="143.0" x2="407.8" y2="93.5" stroke="#8a8a8a" stroke-width="3.3" stroke-linecap="round"/>
<line x1="369.5" y1="142.7" x2="407.5" y2="93.2" stroke="#c9c9c9" stroke-width="2.1" stroke-linecap="round"/>
<line x1="382.3" y1="100.9" x2="426.0" y2="127.0" stroke="#8a8a8a" stroke-width="3.3" stroke-linecap="round"/>
<line x1="382.0" y1="100.6" x2="425.7" y2="126.7" stroke="#c9c9c9" stroke-width="2.1" stroke-linecap="round"/>
<line x1="407.8" y1="93.5" x2="464.6" y2="77.2" stroke="#8a8a8a" stroke-width="3.3" stroke-linecap="round"/>
<line x1="407.5" y1="93.2" x2="464.3" y2="76.9" stroke="#c9c9c9" stroke-width="2.1" stroke-linecap="round"/>
<line x1="407.8" y1="93.5" x2="451.5" y2="119.1" stroke="#8a8a8a" stroke-width="3.3" stroke-linecap="round"/>
<line x1="407.5" y1="93.2" x2="451.2" y2="118.8" stroke="#c9c9c9" stroke-width="2.1" stroke-linecap="round"/>
<line x1="449.3" y1="38.7" x2="464.6" y2="77.2" stroke="#8a8a8a" stroke-width="3.3" stroke-linecap="round"/>
<line x1="449.0" y1="38.4" x2="464.3" y2="76.9" stroke="#c9c9c9" stroke-width="2.1" stroke-linecap="round"/>
<line x1="464.6" y1="77.2" x2="426.0" y2="127.0" stroke="#8a8a8a" stroke-width="3.3" stroke-linecap="round"/>
<line x1="464.3" y1="76.9" x2="425.7" y2="126.7" stroke="#c9c9c9" stroke-width="2.1" stroke-linecap="round"/>
<line x1="464.6" y1="77.2" x2="451.5" y2="119.1" stroke="#8a8a8a" stroke-width="3.3" stroke-linecap="round"/>
<line x1="464.3" y1="76.9" x2="451.2" y2="118.8" stroke="#c9c9c9" stroke-width="2.1" stroke-linecap="round"/>
<line x1="451.5" y1="119.1" x2="491.3" y2="142.5" stroke="#8a8a8a" stroke-width="3.3" stroke-linecap="round"/>
<line x1="451.2" y1="118.8" x2="491.0" y2="142.2" stroke="#c9c9c9" stroke-width="2.1" stroke-linecap="round"/>
<line x1="369.8" y1="143.0" x2="426.0" y2="127.0" stroke="#8a8a8a" stroke-width="3.3" stroke-linecap="round"/>
<line x1="369.5" y1="142.7" x2="425.7" y2="126.7" stroke="#c9c9c9" stroke-width="2.1" stroke-linecap="round"/>
<line x1="369.8" y1="143.0" x2="383.9" y2="181.8" stroke="#8a8a8a" stroke-width="3.3" stroke-linecap="round"/>
<line x1="369.5" y1="142.7" x2="383.6" y2="181.5" stroke="#c9c9c9" stroke-width="2.1" stroke-linecap="round"/>
<line x1="383.9" y1="181.8" x2="431.8" y2="160.8" stroke="#8a8a8a" stroke-width="3.3" stroke-linecap="round"/>
<line x1="383.6" y1="181.5" x2="431.5" y2="160.5" stroke="#c9c9c9" stroke-width="2.1" stroke-linecap="round"/>
<line x1="431.8" y1="160.8" x2="454.3" y2="198.5" stroke="#8a8a8a" stroke-width="3.3" stroke-linecap="round"/>
<line x1="431.5" y1="160.5" x2="454.0" y2="198.2" stroke="#c9c9c9" stroke-width="2.1" stroke-linecap="round"/>
<circle cx="440.0" cy="148.5" r="7.7" fill="url(#gM)"/>
<circle cx="440.0" cy="148.5" r="7.7" fill="url(#gS)"/>
<circle cx="437.6" cy="145.8" r="0.81" fill="#fff" opacity="0.85"/>
<circle cx="443.1" cy="151.6" r="0.62" fill="#f0c0ea" opacity="0.75"/>
<line x1="451.5" y1="119.1" x2="431.8" y2="160.8" stroke="#8a8a8a" stroke-width="3.3" stroke-linecap="round"/>
<line x1="451.2" y1="118.8" x2="431.5" y2="160.5" stroke="#c9c9c9" stroke-width="2.1" stroke-linecap="round"/>
<circle cx="342.0" cy="78.0" r="12.3" fill="url(#gO)"/>
<circle cx="342.0" cy="78.0" r="12.3" fill="url(#gS)"/>
<circle cx="338.2" cy="73.7" r="1.29" fill="#fff" opacity="0.90"/>
<circle cx="346.9" cy="82.9" r="0.98" fill="#ff8080" opacity="0.75"/>
<circle cx="401.5" cy="58.4" r="12.3" fill="url(#gO)"/>
<circle cx="401.5" cy="58.4" r="12.3" fill="url(#gS)"/>
<circle cx="397.7" cy="54.1" r="1.29" fill="#fff" opacity="0.90"/>
<circle cx="406.4" cy="63.3" r="0.98" fill="#ff8080" opacity="0.75"/>
<circle cx="426.0" cy="127.0" r="12.3" fill="url(#gO)"/>
<circle cx="426.0" cy="127.0" r="12.3" fill="url(#gS)"/>
<circle cx="422.2" cy="122.7" r="1.29" fill="#fff" opacity="0.90"/>
<circle cx="430.9" cy="131.9" r="0.98" fill="#ff8080" opacity="0.75"/>
<circle cx="509.3" cy="166.1" r="7.7" fill="url(#gM)"/>
<circle cx="509.3" cy="166.1" r="7.7" fill="url(#gS)"/>
<circle cx="506.9" cy="163.4" r="0.81" fill="#fff" opacity="0.85"/>
<circle cx="512.4" cy="169.2" r="0.62" fill="#f0c0ea" opacity="0.75"/>
<line x1="432.0" y1="136.2" x2="438.9" y2="146.8" stroke="#8a8a8a" stroke-width="3.3" stroke-linecap="round"/>
<line x1="431.7" y1="135.9" x2="438.6" y2="146.5" stroke="#8e8e8e" stroke-width="2.1" stroke-linecap="round"/>
<circle cx="431.8" cy="160.8" r="12.3" fill="url(#gO)"/>
<circle cx="431.8" cy="160.8" r="12.3" fill="url(#gS)"/>
<circle cx="428.0" cy="156.5" r="1.29" fill="#fff" opacity="0.90"/>
<circle cx="436.7" cy="165.7" r="0.98" fill="#ff8080" opacity="0.75"/>
<circle cx="407.8" cy="93.5" r="12.3" fill="url(#gO)"/>
<circle cx="407.8" cy="93.5" r="12.3" fill="url(#gS)"/>
<circle cx="404.0" cy="89.2" r="1.29" fill="#fff" opacity="0.90"/>
<circle cx="412.7" cy="98.4" r="0.98" fill="#ff8080" opacity="0.75"/>
<circle cx="464.6" cy="77.2" r="12.3" fill="url(#gO)"/>
<circle cx="464.6" cy="77.2" r="12.3" fill="url(#gS)"/>
<circle cx="460.8" cy="72.9" r="1.29" fill="#fff" opacity="0.90"/>
<circle cx="469.5" cy="82.1" r="0.98" fill="#ff8080" opacity="0.75"/>
<circle cx="369.8" cy="143.0" r="12.3" fill="url(#gO)"/>
<circle cx="369.8" cy="143.0" r="12.3" fill="url(#gS)"/>
<circle cx="366.0" cy="138.7" r="1.29" fill="#fff" opacity="0.90"/>
<circle cx="374.7" cy="147.9" r="0.98" fill="#ff8080" opacity="0.75"/>
<circle cx="491.3" cy="142.5" r="12.3" fill="url(#gO)"/>
<circle cx="491.3" cy="142.5" r="12.3" fill="url(#gS)"/>
<circle cx="487.5" cy="138.2" r="1.29" fill="#fff" opacity="0.90"/>
<circle cx="496.2" cy="147.4" r="0.98" fill="#ff8080" opacity="0.75"/>
<line x1="324.0" y1="54.3" x2="338.1" y2="72.8" stroke="#8a8a8a" stroke-width="3.3" stroke-linecap="round"/>
<line x1="323.7" y1="54.0" x2="337.8" y2="72.5" stroke="#8e8e8e" stroke-width="2.1" stroke-linecap="round"/>
<line x1="394.2" y1="70.6" x2="405.2" y2="89.2" stroke="#8a8a8a" stroke-width="3.3" stroke-linecap="round"/>
<line x1="393.9" y1="70.3" x2="404.9" y2="88.9" stroke="#8e8e8e" stroke-width="2.1" stroke-linecap="round"/>
<line x1="413.3" y1="103.6" x2="423.6" y2="122.6" stroke="#8a8a8a" stroke-width="3.3" stroke-linecap="round"/>
<line x1="413.0" y1="103.3" x2="423.3" y2="122.3" stroke="#8e8e8e" stroke-width="2.1" stroke-linecap="round"/>
<line x1="451.5" y1="119.1" x2="430.8" y2="125.5" stroke="#8a8a8a" stroke-width="3.3" stroke-linecap="round"/>
<line x1="451.2" y1="118.8" x2="430.5" y2="125.2" stroke="#c9c9c9" stroke-width="2.1" stroke-linecap="round"/>
<line x1="498.3" y1="151.6" x2="506.9" y2="162.9" stroke="#8a8a8a" stroke-width="3.3" stroke-linecap="round"/>
<line x1="498.0" y1="151.3" x2="506.6" y2="162.6" stroke="#8e8e8e" stroke-width="2.1" stroke-linecap="round"/>
<circle cx="379.1" cy="22.4" r="7.7" fill="url(#gM)"/>
<circle cx="379.1" cy="22.4" r="7.7" fill="url(#gS)"/>
<circle cx="376.7" cy="19.7" r="0.81" fill="#fff" opacity="0.85"/>
<circle cx="382.2" cy="25.5" r="0.62" fill="#f0c0ea" opacity="0.75"/>
<circle cx="324.0" cy="54.3" r="7.7" fill="url(#gM)"/>
<circle cx="324.0" cy="54.3" r="7.7" fill="url(#gS)"/>
<circle cx="321.6" cy="51.6" r="0.81" fill="#fff" opacity="0.85"/>
<circle cx="327.1" cy="57.4" r="0.62" fill="#f0c0ea" opacity="0.75"/>
<circle cx="394.2" cy="70.6" r="7.7" fill="url(#gM)"/>
<circle cx="394.2" cy="70.6" r="7.7" fill="url(#gS)"/>
<circle cx="391.8" cy="67.9" r="0.81" fill="#fff" opacity="0.85"/>
<circle cx="397.3" cy="73.7" r="0.62" fill="#f0c0ea" opacity="0.75"/>
<circle cx="382.3" cy="100.9" r="7.7" fill="url(#gM)"/>
<circle cx="382.3" cy="100.9" r="7.7" fill="url(#gS)"/>
<circle cx="379.9" cy="98.2" r="0.81" fill="#fff" opacity="0.85"/>
<circle cx="385.4" cy="104.0" r="0.62" fill="#f0c0ea" opacity="0.75"/>
<circle cx="449.3" cy="38.7" r="7.7" fill="url(#gM)"/>
<circle cx="449.3" cy="38.7" r="7.7" fill="url(#gS)"/>
<circle cx="446.9" cy="36.0" r="0.81" fill="#fff" opacity="0.85"/>
<circle cx="452.4" cy="41.8" r="0.62" fill="#f0c0ea" opacity="0.75"/>
<circle cx="451.5" cy="119.1" r="7.7" fill="url(#gM)"/>
<circle cx="451.5" cy="119.1" r="7.7" fill="url(#gS)"/>
<circle cx="449.1" cy="116.4" r="0.81" fill="#fff" opacity="0.85"/>
<circle cx="454.6" cy="122.2" r="0.62" fill="#f0c0ea" opacity="0.75"/>
<circle cx="383.9" cy="181.8" r="7.7" fill="url(#gM)"/>
<circle cx="383.9" cy="181.8" r="7.7" fill="url(#gS)"/>
<circle cx="381.5" cy="179.1" r="0.81" fill="#fff" opacity="0.85"/>
<circle cx="387.0" cy="184.9" r="0.62" fill="#f0c0ea" opacity="0.75"/>
<circle cx="454.3" cy="198.5" r="7.7" fill="url(#gM)"/>
<circle cx="454.3" cy="198.5" r="7.7" fill="url(#gS)"/>
<circle cx="451.9" cy="195.8" r="0.81" fill="#fff" opacity="0.85"/>
<circle cx="457.4" cy="201.6" r="0.62" fill="#f0c0ea" opacity="0.75"/>
<circle cx="508.7" cy="23.7" r="8.7" fill="url(#gML)"/>
<circle cx="508.7" cy="23.7" r="8.7" fill="url(#gS)"/>
<circle cx="506.0" cy="20.7" r="0.91" fill="#fff" opacity="0.80"/>
<circle cx="512.2" cy="27.2" r="0.70" fill="#c8a0c6" opacity="0.75"/>
<circle cx="508.7" cy="48.5" r="8.7" fill="url(#gO)"/>
<circle cx="508.7" cy="48.5" r="8.7" fill="url(#gS)"/>
<circle cx="506.0" cy="45.5" r="0.91" fill="#fff" opacity="0.90"/>
<circle cx="512.2" cy="52.0" r="0.70" fill="#ff8080" opacity="0.75"/>
<text x="524.4" y="27.8" font-family='"Liberation Sans", Arial, sans-serif' font-size="10.3" font-weight="bold" fill="#d8d8d8">Mo</text>
<text x="524.4" y="52.6" font-family='"Liberation Sans", Arial, sans-serif' font-size="10.3" font-weight="bold" fill="#d8d8d8">O</text>
<line x1="309" y1="196" x2="300.3" y2="176.8" stroke="#2a2af0" stroke-width="1.2"/>
<polygon points="298.4,172.6 302.4,176.6 298.9,178.3" fill="#3030ff"/>
<line x1="309" y1="196" x2="317.8" y2="190.8" stroke="#0a7a20" stroke-width="1.1"/>
<circle cx="317.8" cy="190.8" r="2.3" fill="#10a030"/>
<line x1="309" y1="196" x2="326" y2="199.4" stroke="#e03030" stroke-width="1.2"/>
<polygon points="332.4,200.7 325.3,201.4 326.1,197.4" fill="#ff2020"/>
<text x="294.2" y="170.2" font-family='"Liberation Sans", Arial, sans-serif' font-size="9.5" font-weight="bold" text-anchor="middle" fill="#f4f4f4">z</text>
<text x="324.0" y="191.0" font-family='"Liberation Sans", Arial, sans-serif' font-size="9.5" font-weight="bold" text-anchor="middle" fill="#f4f4f4">y</text>
<text x="338.7" y="205.8" font-family='"Liberation Sans", Arial, sans-serif' font-size="9.5" font-weight="bold" text-anchor="middle" fill="#f4f4f4">x</text>
</g>
<g id="tbl">
<rect x="290.2" y="229" width="253.0" height="21.2" fill="#2596d8"/>
<rect x="290.2" y="252.2" width="253.0" height="22.4" fill="#d0deef"/>
<rect x="290.2" y="274.6" width="253.0" height="22.6" fill="#e9eff7"/>
<rect x="290.2" y="297.2" width="253.0" height="22.5" fill="#d0deef"/>
<rect x="290.2" y="319.7" width="253.0" height="22.7" fill="#e9eff7"/>
<rect x="403.6" y="229" width="1.0" height="113.4" fill="#fff"/>
<text x="347.2" y="244.7" font-family='"Liberation Serif", "Times New Roman", serif' font-size="14.5" font-weight="bold" text-anchor="middle" fill="#fff">Crystal System</text>
<text x="474.1" y="244.7" font-family='"Liberation Serif", "Times New Roman", serif' font-size="14.5" font-weight="bold" text-anchor="middle" fill="#fff">Monoclinic</text>
<text x="347.2" y="268.4" font-family='"Liberation Serif", "Times New Roman", serif' font-size="15" text-anchor="middle" fill="#111">a</text>
<text x="474.1" y="268.4" font-family='"Liberation Serif", "Times New Roman", serif' font-size="15" text-anchor="middle" fill="#111">5.6102 &#197;</text>
<text x="347.2" y="290.9" font-family='"Liberation Serif", "Times New Roman", serif' font-size="15" text-anchor="middle" fill="#111">b</text>
<text x="474.1" y="290.9" font-family='"Liberation Serif", "Times New Roman", serif' font-size="15" text-anchor="middle" fill="#111">4.8573 &#197;</text>
<text x="347.2" y="313.5" font-family='"Liberation Serif", "Times New Roman", serif' font-size="15" text-anchor="middle" fill="#111">c</text>
<text x="474.1" y="313.5" font-family='"Liberation Serif", "Times New Roman", serif' font-size="15" text-anchor="middle" fill="#111">5.6265 &#197;</text>
<text x="347.2" y="336.4" font-family='"Liberation Serif", "Times New Roman", serif' font-size="15" text-anchor="middle" fill="#111">&#946;</text>
<text x="474.1" y="336.4" font-family='"Liberation Serif", "Times New Roman", serif' font-size="15" text-anchor="middle" fill="#111">120.915&#176;</text>
</g>
</g>
</svg>
</body></html>
